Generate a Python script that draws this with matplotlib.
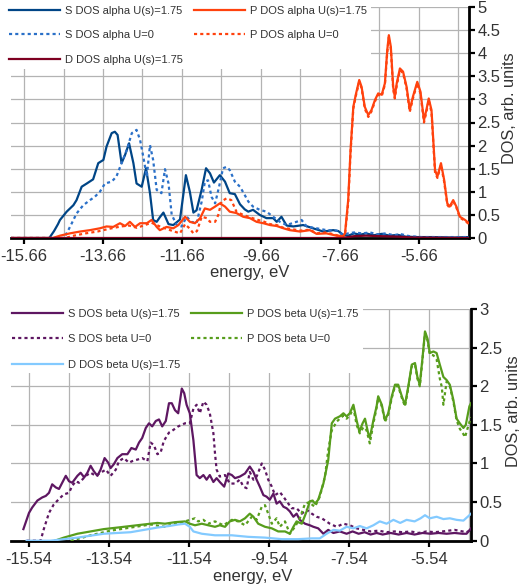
import numpy as np
import matplotlib
matplotlib.use("Agg")
import matplotlib.pyplot as plt
from matplotlib.ticker import FuncFormatter, FixedLocator

plt.rcParams['font.family'] = ['Liberation Sans', 'DejaVu Sans']

# ---------------- top panel (alpha) ----------------
sA_E = [-15.99, -15.02, -14.9, -14.8, -14.75, -14.58, -14.41, -14.33, -14.2, -14.07, -13.91, -13.78, -13.65,
        -13.57, -13.44, -13.36, -13.29, -13.19, -13.10, -13.0, -12.89, -12.81, -12.68, -12.57, -12.47,
        -12.39, -12.3, -12.22, -12.13, -12.0, -11.88, -11.71, -11.56, -11.46, -11.37, -11.29, -11.16,
        -11.05, -10.95, -10.85, -10.70, -10.57, -10.45, -10.32, -10.19, -10.07, -9.98, -9.86, -9.69,
        -9.52, -9.35, -9.26, -9.14, -9.01, -8.84, -8.59, -8.34, -8.08, -7.83, -7.70, -7.58, -7.45, -7.3,
        -7.15, -7.0, -6.8, -6.6, -6.4, -6.2, -6.0, -5.7, -5.3, -4.8, -4.39]
sA_u175 = [0, 0, 0.15, 0.3, 0.39, 0.57, 0.71, 0.82, 1.11, 1.18, 1.27, 1.62, 1.69,
           1.98, 2.27, 2.30, 2.23, 1.62, 1.80, 2.05, 1.62, 1.18, 1.11, 1.51, 0.97,
           0.39, 0.35, 0.45, 0.55, 0.30, 0.28, 0.40, 1.36, 1.0, 0.55, 0.6, 1.05,
           1.51, 1.40, 1.2, 1.36, 1.22, 0.97, 0.95, 0.73, 0.62, 0.57, 0.61, 0.50,
           0.43, 0.43, 0.35, 0.46, 0.27, 0.25, 0.28, 0.21, 0.14, 0.17, 0.15, 0.07, 0.05, 0.1,
           0.07, 0.1, 0.06, 0.09, 0.05, 0.07, 0.03, 0.02, 0.02, 0.01, 0.02]

sA0_E = [-15.99, -14.65, -14.55, -14.45, -14.33, -14.16, -13.99, -13.87, -13.74, -13.61, -13.44, -13.32,
         -13.19, -13.06, -12.93, -12.81, -12.72, -12.64, -12.55, -12.47, -12.39, -12.30, -12.18, -12.09,
         -12.0, -11.92, -11.79, -11.67, -11.54, -11.42, -11.29, -11.16, -11.08, -11.0, -10.91, -10.82,
         -10.72, -10.62, -10.53, -10.45, -10.32, -10.19, -10.07, -9.98, -9.86, -9.69, -9.52, -9.35,
         -9.18, -9.01, -8.76, -8.63, -8.50, -8.25, -8.0, -7.74, -7.58, -7.45, -7.3, -7.1, -6.9, -6.7,
         -6.5, -6.3, -6.1, -5.9, -5.6, -4.39]
sA_u0 = [0, 0, 0.15, 0.32, 0.53, 0.71, 0.82, 0.89, 1.0, 1.18, 1.22, 1.33,
         1.62, 1.90, 2.27, 2.34, 2.12, 1.76, 1.33, 2.01, 1.69, 1.04, 0.97, 1.49,
         1.18, 0.50, 0.28, 0.25, 0.46, 0.35, 0.32, 0.79, 1.22, 1.25, 0.89, 0.75,
         1.11, 1.51, 1.54, 1.47, 1.22, 1.11, 0.93, 0.79, 0.68, 0.61, 0.57, 0.46,
         0.35, 0.28, 0.35, 0.39, 0.25, 0.21, 0.17, 0.16, 0.07, 0.1, 0.12, 0.1, 0.12, 0.08,
         0.1, 0.06, 0.08, 0.04, 0.02, 0.02]

pA_E = [-15.99, -14.93, -14.75, -14.5, -14.24, -13.99, -13.74, -13.57, -13.40, -13.23, -13.10, -12.98,
        -12.85, -12.72, -12.55, -12.43, -12.30, -12.22, -12.05, -11.88, -11.75, -11.58, -11.46, -11.33,
        -11.20, -11.08, -10.95, -10.82, -10.70, -10.57, -10.45, -10.28, -10.11, -9.94, -9.77, -9.60,
        -9.43, -9.26, -9.09, -8.93, -8.67, -8.42, -8.25, -8.0, -7.74, -7.58,
        -7.53, -7.45, -7.39, -7.32, -7.25, -7.17, -7.11, -7.03, -6.94, -6.86, -6.77, -6.69, -6.60,
        -6.52, -6.46, -6.42, -6.37, -6.31, -6.27, -6.22, -6.14, -6.06, -5.97, -5.89, -5.81, -5.70,
        -5.62, -5.53, -5.47, -5.41, -5.34, -5.25, -5.19, -5.10, -5.02, -4.94, -4.88, -4.79, -4.71,
        -4.62, -4.49, -4.39]
pA_u175 = [0, 0, 0.05, 0.10, 0.14, 0.17, 0.21, 0.25, 0.24, 0.32, 0.26, 0.35,
           0.24, 0.32, 0.32, 0.39, 0.24, 0.17, 0.24, 0.21, 0.28, 0.46, 0.35, 0.32,
           0.43, 0.64, 0.61, 0.68, 0.75, 0.68, 0.57, 0.54, 0.46, 0.43, 0.35, 0.32,
           0.28, 0.26, 0.21, 0.17, 0.14, 0.17, 0.09, 0.10, 0.05, 0.04,
           0.10, 0.82, 1.90, 2.84, 3.13, 3.42, 3.27, 2.84, 2.66, 2.77, 2.99, 3.13, 3.10,
           3.35, 4.07, 4.39, 4.14, 3.27, 3.06, 3.35, 3.67, 3.60, 3.27, 2.77, 3.06, 3.38,
           3.17, 2.55, 2.77, 3.02, 2.77, 1.47, 1.33, 1.62, 1.26, 0.75, 0.68, 0.82, 0.68,
           0.46, 0.39, 0.32]

pA0_E = [-15.99, -14.62, -14.4, -14.1, -13.8, -13.5, -13.2, -13.0, -12.8, -12.6, -12.43, -12.22,
         -11.96, -11.71, -11.58, -11.46, -11.37, -11.28, -11.16, -11.03, -10.95, -10.82, -10.74,
         -10.66, -10.53, -10.41, -10.28, -10.11, -9.94, -9.77, -9.6, -9.43, -9.26, -9.09, -8.93,
         -8.67, -8.42, -8.25, -8.0, -7.74, -7.58,
         -7.53, -7.45, -7.39, -7.32, -7.25, -7.17, -7.11, -7.03, -6.94, -6.86, -6.77, -6.69, -6.60,
         -6.52, -6.46, -6.42, -6.37, -6.31, -6.27, -6.22, -6.14, -6.06, -5.97, -5.89, -5.81, -5.70,
         -5.62, -5.53, -5.47, -5.41, -5.34, -5.25, -5.19, -5.10, -5.02, -4.94, -4.88, -4.79, -4.71,
         -4.62, -4.49, -4.39]
pA_u0 = [0, 0, 0.05, 0.1, 0.14, 0.2, 0.25, 0.27, 0.22, 0.28, 0.33, 0.25,
         0.17, 0.10, 0.3, 0.2, 0.10, 0.15, 0.46, 0.43, 0.35, 0.35, 0.50,
         0.79, 0.86, 0.82, 0.57, 0.50, 0.45, 0.4, 0.36, 0.3, 0.28, 0.22, 0.2,
         0.16, 0.18, 0.1, 0.12, 0.06, 0.03,
         0.08, 0.75, 1.85, 2.80, 3.10, 3.38, 3.24, 2.80, 2.62, 2.74, 2.96, 3.10, 3.07,
         3.32, 4.02, 4.35, 4.10, 3.22, 3.02, 3.30, 3.63, 3.57, 3.23, 2.73, 3.02, 3.35,
         3.13, 2.50, 2.72, 2.98, 2.72, 1.42, 1.30, 1.58, 1.22, 0.72, 0.65, 0.80, 0.66,
         0.44, 0.37, 0.30]

dA_E = [-15.99, -7.6, -7.3, -7.0, -6.6, -6.2, -5.8, -4.39]
dA_u175 = [0, 0, 0.04, 0.05, 0.04, 0.03, 0.01, 0.0]

# ---------------- bottom panel (beta) ----------------
sB_E = [-15.68, -15.62, -15.54, -15.46, -15.33, -15.21, -15.12, -15.04, -14.96, -14.87, -14.79, -14.71,
        -14.62, -14.54, -14.46, -14.33, -14.25, -14.16, -14.08, -14.0, -13.92, -13.83, -13.75, -13.65,
        -13.56, -13.50, -13.42, -13.33, -13.21, -13.08, -12.98, -12.87, -12.79, -12.71, -12.62, -12.54,
        -12.46, -12.37, -12.29, -12.21, -12.12, -12.04, -11.97, -11.89, -11.81, -11.72, -11.66, -11.60,
        -11.52, -11.43, -11.35, -11.27, -11.18, -11.10, -11.02, -10.93, -10.85, -10.77, -10.66, -10.56,
        -10.47, -10.39, -10.27, -10.14, -10.02, -9.93, -9.85, -9.77, -9.68, -9.60, -9.52, -9.43, -9.35,
        -9.27, -9.18, -9.10, -9.02, -8.93, -8.85, -8.77, -8.64, -8.52, -8.43, -8.31, -8.18, -8.06,
        -7.93, -7.77, -7.6, -7.45, -7.3, -7.15, -7.0, -6.85, -6.7, -6.5, -6.3, -6.1, -5.9, -5.7, -5.5,
        -5.3, -5.1, -4.9, -4.7, -4.6, -4.49]
sB_u175 = [0.15, 0.24, 0.36, 0.43, 0.52, 0.56, 0.58, 0.62, 0.73, 0.69, 0.67, 0.75,
           0.84, 0.77, 0.75, 0.84, 0.88, 0.82, 0.88, 0.97, 0.90, 0.84, 0.92, 1.07,
           1.01, 0.94, 0.99, 1.07, 1.12, 1.12, 1.20, 1.18, 1.27, 1.33, 1.46, 1.52,
           1.48, 1.55, 1.57, 1.48, 1.55, 1.78, 1.78, 1.69, 1.65, 1.97, 1.91, 1.76,
           1.65, 1.30, 0.85, 0.81, 0.85, 0.79, 0.85, 0.76, 0.81, 0.76, 0.70, 0.87,
           0.85, 0.81, 0.83, 0.87, 0.96, 0.89, 0.79, 0.70, 0.59, 0.57, 0.53, 0.61, 0.48,
           0.51, 0.44, 0.42, 0.38, 0.31, 0.35, 0.27, 0.22, 0.20, 0.18, 0.16, 0.09, 0.14,
           0.10, 0.12, 0.09, 0.12, 0.09, 0.11, 0.08, 0.10, 0.08, 0.10, 0.08, 0.10, 0.08, 0.10, 0.09,
           0.10, 0.09, 0.10, 0.09, 0.09, 0.16]

sB0_E = [-15.6, -15.25, -15.17, -15.04, -14.92, -14.79, -14.67, -14.54, -14.46, -14.37, -14.29, -14.21,
         -14.12, -14.0, -13.87, -13.75, -13.62, -13.50, -13.37, -13.29, -13.17, -13.04, -12.96, -12.83,
         -12.71, -12.58, -12.50, -12.42, -12.33, -12.25, -12.17, -12.04, -11.97, -11.81, -11.64, -11.52,
         -11.43, -11.35, -11.27, -11.18, -11.10, -11.02, -10.93, -10.89, -10.85, -10.77, -10.64, -10.52,
         -10.39, -10.27, -10.18, -10.10, -10.02, -9.93, -9.85, -9.72, -9.64, -9.56, -9.47, -9.39, -9.27,
         -9.18, -9.10, -8.97, -8.85, -8.72, -8.60, -8.47, -8.35, -8.22, -8.02, -7.85, -7.68, -7.52,
         -7.35, -7.18, -7.0, -6.8, -6.6, -6.4, -6.2, -6.0, -5.8, -5.6, -5.4, -5.2, -4.9, -4.8, -4.6, -4.49]
sB_u0 = [0, 0, 0.15, 0.36, 0.47, 0.54, 0.60, 0.62, 0.71, 0.77, 0.75, 0.79,
         0.84, 0.88, 0.84, 0.88, 0.92, 0.84, 0.92, 1.03, 1.07, 1.01, 1.03, 1.05,
         1.07, 1.03, 1.27, 1.24, 1.12, 1.14, 1.29, 1.40, 1.42, 1.48, 1.52, 1.52,
         1.71, 1.76, 1.65, 1.80, 1.76, 1.65, 1.39, 1.13, 0.92, 0.83, 0.85, 0.74,
         0.74, 0.79, 0.70, 0.68, 0.89, 0.79, 0.83, 1.00, 0.92, 0.79, 0.70, 0.59, 0.63,
         0.57, 0.51, 0.42, 0.42, 0.35, 0.40, 0.35, 0.31, 0.29, 0.22, 0.18, 0.22, 0.20,
         0.16, 0.14, 0.12, 0.13, 0.11, 0.12, 0.11, 0.12, 0.10, 0.12, 0.11, 0.12, 0.14, 0.13, 0.11, 0.14]

pB_E = [-14.89, -14.67, -14.33, -14.0, -13.67, -13.33, -13.0, -12.67, -12.33, -12.14, -11.89, -11.64,
        -11.52, -11.39, -11.22, -11.06, -10.89, -10.77, -10.64, -10.52, -10.39, -10.27, -10.14, -10.02,
        -9.93, -9.81, -9.64, -9.47, -9.31, -9.14, -9.02, -8.93, -8.85, -8.72, -8.60, -8.52, -8.45,
        -8.39, -8.31, -8.18, -8.06, -7.97, -7.89, -7.77, -7.68, -7.60, -7.52, -7.43, -7.35, -7.28,
        -7.20, -7.14, -7.06, -7.02, -6.93, -6.85, -6.81, -6.72, -6.64, -6.56, -6.47, -6.39, -6.31,
        -6.22, -6.14, -6.06, -5.97, -5.89, -5.83, -5.77, -5.70, -5.64, -5.58, -5.52, -5.43, -5.35,
        -5.27, -5.18, -5.10, -5.02, -4.93, -4.85, -4.77, -4.68, -4.62, -4.53, -4.49]
pB_u175 = [0, 0.04, 0.09, 0.12, 0.15, 0.17, 0.19, 0.21, 0.23, 0.22, 0.24, 0.25,
           0.22, 0.20, 0.22, 0.20, 0.18, 0.20, 0.18, 0.25, 0.27, 0.25, 0.29, 0.35,
           0.31, 0.22, 0.18, 0.16, 0.12, 0.12, 0.09, 0.18, 0.25, 0.22, 0.38, 0.51, 0.52,
           0.48, 0.53, 0.74, 1.04, 1.52, 1.58, 1.61, 1.65, 1.61, 1.65, 1.76, 1.56, 1.41,
           1.52, 1.58, 1.39, 1.33, 1.56, 1.74, 1.87, 1.76, 1.56, 1.65, 1.87, 2.02, 2.02,
           1.87, 1.76, 1.99, 2.28, 2.30, 2.12, 2.02, 2.38, 2.71, 2.62, 2.43, 2.45, 2.43,
           2.28, 2.12, 2.08, 2.02, 1.82, 1.58, 1.52, 1.46, 1.50, 1.74, 1.78]

pB0_E = [-14.5, -14.2, -14.0, -13.5, -13.0, -12.5, -12.14, -11.9, -11.7, -11.52, -11.39, -11.31,
         -11.18, -11.06, -10.89, -10.68, -10.47, -10.31, -10.14, -9.97, -9.85, -9.72, -9.64, -9.56,
         -9.47, -9.35, -9.27, -9.14, -9.02, -8.89, -8.77, -8.64, -8.52, -8.45, -8.39, -8.27, -8.14,
         -8.06, -7.97, -7.85, -7.77, -7.68, -7.60, -7.52, -7.43, -7.35, -7.27, -7.18, -7.10, -7.02,
         -6.93, -6.85, -6.81, -6.72, -6.64, -6.56, -6.47, -6.39, -6.31, -6.22, -6.14, -6.06, -5.97,
         -5.89, -5.83, -5.77, -5.70, -5.64, -5.58, -5.52, -5.43, -5.35, -5.27, -5.22, -5.18, -5.10,
         -5.02, -4.93, -4.85, -4.77, -4.68, -4.64, -4.55, -4.49]
pB_u0 = [0, 0.04, 0.07, 0.13, 0.17, 0.21, 0.18, 0.22, 0.24, 0.27, 0.29, 0.25,
         0.27, 0.22, 0.25, 0.20, 0.27, 0.25, 0.20, 0.31, 0.27, 0.44, 0.46, 0.35,
         0.22, 0.29, 0.18, 0.25, 0.09, 0.18, 0.29, 0.48, 0.50, 0.46, 0.44, 0.57, 0.83,
         1.17, 1.43, 1.54, 1.58, 1.62, 1.58, 1.62, 1.72, 1.50, 1.39, 1.47, 1.43, 1.26,
         1.52, 1.72, 1.85, 1.74, 1.54, 1.63, 1.85, 2.00, 2.00, 1.85, 1.74, 1.97, 2.26,
         2.28, 2.10, 2.00, 2.36, 2.69, 2.60, 2.41, 2.40, 2.35, 2.10, 1.99, 1.76, 2.06,
         2.00, 1.80, 1.56, 1.45, 1.38, 1.34, 1.50, 1.60]

dB_E = [-15.6, -15.0, -14.33, -13.67, -13.0, -12.33, -12.04, -11.81, -11.64, -11.52, -11.43, -11.22,
        -10.89, -10.47, -10.06, -9.64, -9.22, -8.81, -8.47, -8.27, -8.10, -7.93, -7.77, -7.60, -7.43,
        -7.27, -7.10, -6.93, -6.77, -6.60, -6.43, -6.26, -6.10, -5.9, -5.75, -5.64, -5.52, -5.35,
        -5.18, -5.02, -4.85, -4.68, -4.53, -4.49]
dB_u175 = [0, 0, 0.04, 0.09, 0.11, 0.17, 0.19, 0.21, 0.22, 0.18, 0.12, 0.09,
           0.07, 0.07, 0.05, 0.04, 0.02, 0.02, 0.03, 0.03, 0.09, 0.14, 0.13, 0.18, 0.16,
           0.19, 0.16, 0.20, 0.25, 0.22, 0.27, 0.23, 0.27, 0.25, 0.29, 0.33, 0.29, 0.31,
           0.28, 0.29, 0.27, 0.26, 0.33, 0.35]

xticks_top = [-15.66, -13.66, -11.66, -9.66, -7.66, -5.66]
xticks_bot = [-15.54, -13.54, -11.54, -9.54, -7.54, -5.54]
yticks_top = [0, 0.5, 1, 1.5, 2, 2.5, 3, 3.5, 4, 4.5, 5]
yticks_bot = [0, 0.5, 1, 1.5, 2, 2.5, 3]

labels_top = ["S DOS alpha U(s)=1.75", "S DOS alpha U=0", "D DOS alpha U(s)=1.75",
              "P DOS alpha U(s)=1.75", "P DOS alpha U=0"]
labels_bot = ["S DOS beta U(s)=1.75", "S DOS beta U=0", "D DOS beta U(s)=1.75",
              "P DOS beta U(s)=1.75", "P DOS beta U=0"]

W, H = 520, 587
fig = plt.figure(figsize=(W / 100, H / 100), dpi=100)
ax1 = fig.add_axes([11 / W, 1 - 238 / H, 458 / W, 231 / H])
ax2 = fig.add_axes([11 / W, 1 - 540.7 / H, 460 / W, 231.7 / H])

DOT = (0, (1.4, 1.4))
LW = 1.6
TXT = '#333333'


def style(ax, xlim, xt, ymax, yt):
    ax.set_xlim(*xlim)
    ax.set_ylim(0, ymax)
    ax.set_xticks(xt)
    ax.set_xticklabels(["%.2f" % v for v in xt])
    minor = np.arange(xt[0] - 1, xlim[1] + 0.01, 1.0)
    ax.xaxis.set_minor_locator(FixedLocator(minor))
    ax.set_yticks(yt)
    ax.yaxis.set_major_formatter(FuncFormatter(lambda v, p: "%g" % v))
    ax.yaxis.tick_right()
    for s in ['left', 'top']:
        ax.spines[s].set_visible(False)
    for s in ['right', 'bottom']:
        ax.spines[s].set_linewidth(2)
        ax.spines[s].set_color('black')
    ax.tick_params(axis='both', which='major', direction='out', length=4, width=1.6,
                   color='black', labelcolor=TXT, labelsize=12)
    ax.tick_params(axis='x', which='major', pad=4)
    ax.tick_params(axis='y', which='major', pad=2)
    ax.tick_params(axis='x', which='minor', length=0)
    ax.grid(True, which='both', axis='x', color='#b3b3b3', lw=0.9)
    ax.grid(True, which='major', axis='y', color='#b3b3b3', lw=0.9)
    ax.set_axisbelow(True)


style(ax1, (-15.99, -4.39), xticks_top, 5, yticks_top)
style(ax2, (-15.99, -4.49), xticks_bot, 3, yticks_bot)

h1 = ax1.plot(sA_E, sA_u175, color='#004586', lw=LW, zorder=3)[0]
h2 = ax1.plot(sA0_E, sA_u0, color='#2a70c8', lw=LW, ls=DOT, zorder=3)[0]
h4 = ax1.plot(pA_E, pA_u175, color='#ff420e', lw=LW, zorder=3)[0]
h5 = ax1.plot(pA0_E, pA_u0, color='#ff420e', lw=LW, ls=DOT, zorder=3)[0]
h3 = ax1.plot(dA_E, dA_u175, color='#7e0021', lw=LW, zorder=3)[0]

g1 = ax2.plot(sB_E, sB_u175, color='#5e1762', lw=LW, zorder=3)[0]
g2 = ax2.plot(sB0_E, sB_u0, color='#5e1762', lw=LW, ls=DOT, zorder=3)[0]
g4 = ax2.plot(pB_E, pB_u175, color='#579d1c', lw=LW, zorder=3)[0]
g5 = ax2.plot(pB0_E, pB_u0, color='#579d1c', lw=LW, ls=DOT, zorder=3)[0]
g3 = ax2.plot(dB_E, dB_u175, color='#83caff', lw=LW, zorder=3)[0]

leg_kw = dict(ncol=2, fontsize=8, handlelength=4.6, handletextpad=0.45, columnspacing=1.0,
              borderpad=0.35, borderaxespad=0, frameon=True, facecolor='white', edgecolor='none',
              framealpha=1, fancybox=False, loc='upper left', bbox_transform=fig.transFigure)
lg1 = ax1.legend([h1, h2, h3, h4, h5], labels_top, labelspacing=1.3,
                 bbox_to_anchor=(5 / W, 1 - 2 / H), **leg_kw)
lg2 = ax2.legend([g1, g2, g3, g4, g5], labels_bot, labelspacing=1.38,
                 bbox_to_anchor=(8 / W, 1 - 305 / H), **leg_kw)
for lg in (lg1, lg2):
    for t in lg.get_texts():
        t.set_color(TXT)

fig.text(250 / W, 1 - 277 / H, "energy, eV", ha='center', va='baseline', fontsize=12, color=TXT)
fig.text(253 / W, 1 - 581 / H, "energy, eV", ha='center', va='baseline', fontsize=12, color=TXT)
fig.text(510 / W, 1 - 108 / H, "DOS, arb. units", ha='center', va='center', rotation=90,
         fontsize=11.8, color=TXT)
fig.text(513 / W, 1 - 411 / H, "DOS, arb. units", ha='center', va='center', rotation=90,
         fontsize=11.8, color=TXT)

fig.savefig("out.png", dpi=100)
